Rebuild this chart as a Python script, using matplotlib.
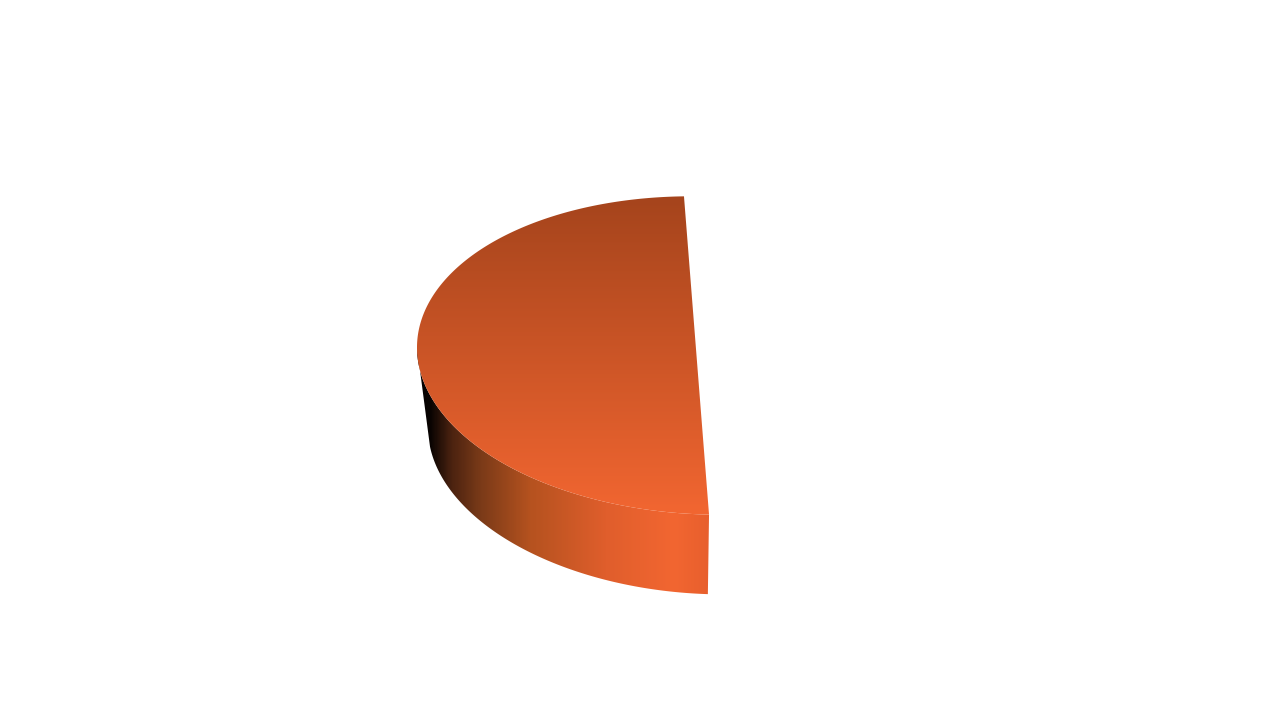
import numpy as np
import matplotlib
matplotlib.use('Agg')
import matplotlib.pyplot as plt
from matplotlib.colors import LinearSegmentedColormap
from matplotlib.patches import Polygon

# one slice of a 3D pie, the rest is hidden
slice_share = [0.4906]
slice_color_top = '#a5441c'
slice_color_front = '#f26631'
side_stops = [0, 0.05, 0.12, 0.22, 0.39, 0.65, 0.88, 1]
side_colors = ['#000000', '#0a0402', '#4a2210', '#7a3a18', '#b5521f', '#e05e2c', '#f26631', '#e85f2d']

fig = plt.figure(figsize=(12.8, 7.2), dpi=100)
ax = fig.add_axes([0, 0, 1, 1])
ax.set_xlim(0, 1280)
ax.set_ylim(720, 0)
ax.axis('off')

start = -0.014
sweep = 2 * np.pi * slice_share[0]


def arc(center, u, v, t):
    return np.array([np.array(center) + np.cos(s) * np.array(u) + np.sin(s) * np.array(v) for s in t])


# top ellipse and the bottom one, projected on the screen
t_top = np.linspace(start, start + sweep, 300)
top = arc((705, 355.5), (0, 159), (-288, -8), t_top)
side_top = arc((705, 355.5), (0, 159), (-288, -8), np.linspace(start, np.pi / 2, 300))
side_bot = arc((704, 439), (0, 155), (-276, -11), np.linspace(start, 1.45, 300))

side_x = np.linspace(415, 710, 300)[None, :]
side_cmap = LinearSegmentedColormap.from_list('side', list(zip(side_stops, side_colors)))
side = ax.imshow(side_x, extent=[415, 710, 600, 340], cmap=side_cmap, aspect='auto', zorder=1)
side.set_clip_path(Polygon(np.vstack([side_top, side_bot[::-1]]), transform=ax.transData))

top_cmap = LinearSegmentedColormap.from_list('top', [slice_color_top, slice_color_front])
face_y = np.linspace(195, 515, 300)[:, None]
face = ax.imshow(face_y, extent=[410, 715, 515, 195], cmap=top_cmap, aspect='auto', zorder=2)
face.set_clip_path(Polygon(top, transform=ax.transData))

ax.set_xlim(0, 1280)
ax.set_ylim(720, 0)
fig.savefig('out.png', dpi=100)
